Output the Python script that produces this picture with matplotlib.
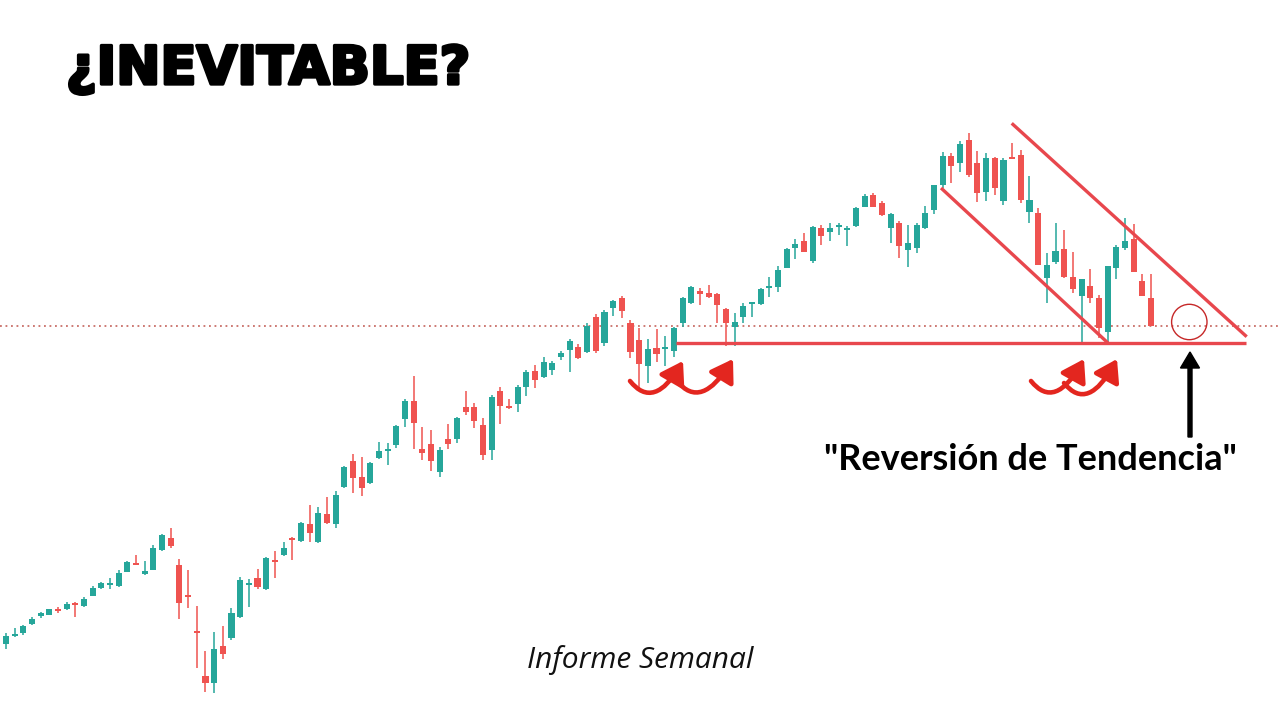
import matplotlib
matplotlib.use("Agg")
import matplotlib.pyplot as plt
from matplotlib.patches import Circle, FancyArrow, FancyArrowPatch
from matplotlib.path import Path
import matplotlib.patheffects as pe
import numpy as np

# ---- weekly candles (arbitrary price units) ----
opens = [74, 76, 84, 87, 96, 104, 105, 111, 111, 117, 114, 124, 132, 136, 134, 148, 157, 146, 150, 170,
         182, 155, 125, 89, 44, 37, 74, 82, 103, 135, 142, 131, 160, 165, 182, 179, 196, 178, 206, 196,
         233, 259, 243, 237, 262, 270, 275, 301, 319, 271, 276, 248, 281, 281, 313, 313, 295, 270, 329, 314,
         316, 333, 349, 343, 350, 363, 370, 373, 368, 403, 377, 412, 422, 397, 380, 354, 372, 371, 369, 397,
         417, 429, 427, 426, 411, 393, 403, 417, 416, 433, 433, 452, 472, 479, 459, 492, 488, 494, 491, 494,
         513, 525, 517, 492, 497, 470, 472, 492, 510, 535, 564, 557, 580, 557, 528, 562, 519, 563, 565, 508,
         507, 442, 458, 471, 443, 424, 434, 422, 388, 452, 472, 481, 439, 422]
highs = [83, 87, 92, 95, 103, 108, 111, 113, 118, 118, 123, 134, 138, 142, 150, 159, 165, 159, 175, 186,
         192, 161, 150, 114, 69, 88, 94, 112, 143, 141, 151, 163, 169, 178, 183, 198, 215, 213, 223, 229,
         254, 266, 263, 258, 278, 277, 295, 321, 344, 293, 290, 273, 296, 303, 329, 317, 302, 325, 333, 321,
         335, 350, 355, 363, 359, 369, 381, 376, 397, 406, 410, 420, 424, 400, 392, 381, 391, 384, 393, 423,
         434, 432, 435, 427, 412, 407, 417, 418, 432, 443, 454, 472, 481, 487, 494, 495, 497, 497, 494, 513,
         526, 527, 519, 507, 499, 495, 497, 514, 535, 568, 567, 579, 587, 569, 567, 563, 562, 577, 570, 544,
         512, 467, 497, 490, 468, 441, 451, 425, 454, 475, 502, 496, 446, 446]
lows = [71, 71, 83, 85, 95, 102, 105, 107, 110, 103, 113, 124, 131, 131, 133, 148, 155, 145, 150, 169,
        172, 101, 112, 52, 28, 27, 61, 80, 102, 113, 131, 130, 142, 164, 160, 178, 178, 177, 196, 192,
        232, 227, 224, 236, 261, 255, 272, 293, 271, 260, 249, 243, 271, 277, 305, 292, 260, 260, 296, 311,
        308, 324, 332, 342, 345, 360, 348, 361, 367, 367, 374, 404, 402, 362, 332, 337, 358, 354, 363, 393,
        416, 415, 422, 397, 374, 374, 397, 403, 415, 423, 428, 452, 461, 468, 457, 475, 479, 485, 474, 493,
        513, 513, 504, 477, 462, 453, 467, 491, 506, 532, 537, 548, 543, 518, 519, 525, 515, 561, 517, 497,
        455, 417, 456, 442, 427, 377, 417, 382, 377, 441, 470, 448, 424, 394]
closes = [80, 84, 86, 94, 101, 107, 111, 109, 116, 115, 121, 132, 137, 137, 147, 158, 156, 149, 172, 185,
          174, 117, 123, 87, 37, 71, 66, 107, 140, 137, 133, 162, 158, 172, 181, 197, 187, 207, 197, 225,
          253, 242, 232, 257, 269, 271, 294, 319, 297, 267, 259, 270, 276, 302, 308, 299, 265, 323, 314, 313,
          333, 348, 340, 358, 357, 367, 379, 362, 394, 369, 408, 419, 409, 368, 356, 371, 366, 373, 392, 422,
          433, 426, 423, 415, 397, 398, 414, 418, 431, 434, 450, 471, 476, 468, 493, 484, 492, 495, 492, 512,
          524, 513, 505, 506, 474, 477, 495, 507, 535, 564, 554, 576, 545, 527, 562, 532, 560, 561, 520, 520,
          455, 455, 469, 443, 431, 441, 422, 392, 454, 473, 479, 448, 424, 394]

# ---- chart annotations (same price units / candle index) ----
dotted_level = 394.3
support_level = 377.3
support_span = [78.3, 144.0]
lower_channel = [(108.8, 532.0), (128.05, 377.0)]
upper_channel = [(116.95, 596.7), (144.04, 383.3)]

title = "¿INEVITABLE?"
callout = "\"Reversión de Tendencia\""
footer = "Informe Semanal"

GREEN = "#26a69a"
RED = "#ef5350"
LINE_RED = "#e8474d"

fig = plt.figure(figsize=(12.8, 7.2), dpi=100)
fig.patch.set_facecolor("white")
ax = fig.add_axes([0, 0, 1, 1])
ax.axis("off")

o = np.array(opens, float)
h = np.array(highs, float)
l = np.array(lows, float)
c = np.array(closes, float)
x = np.arange(len(o))
cols = np.where(c >= o, GREEN, RED)

ax.vlines(x, l, h, colors=cols, lw=1.1, zorder=2)
body = np.abs(c - o)
bh = np.maximum(body, 2.0)
bottom = np.minimum(o, c) - (bh - body) / 2
ax.bar(x, bh, bottom=bottom, width=0.7, color=cols, linewidth=0, zorder=3)

ax.axhline(dotted_level, color="#c0564e", lw=1.1, ls=(0, (1.2, 2.4)), zorder=1)
ax.plot(support_span, [support_level, support_level], color=LINE_RED, lw=2.4,
        solid_capstyle="butt", zorder=4)
for seg in (lower_channel, upper_channel):
    ax.plot([seg[0][0], seg[1][0]], [seg[0][1], seg[1][1]], color=LINE_RED, lw=2.4,
            solid_capstyle="butt", zorder=4)

ax.set_xlim(0.311, 147.88)
ax.set_ylim(0, 720)

# ---- overlay in pixel coordinates for text & arrows ----
ov = fig.add_axes([0, 0, 1, 1])
ov.axis("off")
ov.set_xlim(0, 1280)
ov.set_ylim(720, 0)
ov.patch.set_alpha(0)

ov.text(66, 84, title, fontsize=38, fontweight="bold", family=["DejaVu Sans"],
        ha="left", va="baseline", color="black",
        path_effects=[pe.withStroke(linewidth=2.4, foreground="black")])
ov.text(1030, 470, callout, fontsize=26, fontweight="bold", family=["Lato", "DejaVu Sans"],
        ha="center", va="baseline", color="black")
ov.text(640, 668, footer, fontsize=21.5, style="italic", fontweight="medium",
        family=["Open Sans", "DejaVu Sans"], ha="center", va="baseline", color="#111111")

ov.add_patch(Circle((1189.3, 322), 17.7, fill=False, ec="#c62828", lw=1.0, zorder=5))
ov.add_patch(FancyArrow(1190, 437, 0, -85, width=4, head_width=19, head_length=16,
                        length_includes_head=True, color="black", zorder=6))

for (x0, y0), (x2, y2) in [((630, 381), (683, 361)), ((677, 381), (733, 359)),
                           ((1031, 381), (1084, 359)), ((1064, 383), (1117, 359))]:
    p1 = (x0 + 24, y0 + 30)
    path = Path([(x0, y0), p1, (x2, y2)], [Path.MOVETO, Path.CURVE3, Path.CURVE3])
    ov.add_patch(FancyArrowPatch(path=path, arrowstyle="-|>,head_length=0.65,head_width=0.42",
                                 mutation_scale=20, color="#e3261f", lw=3.3, zorder=6))

fig.savefig("out.png", dpi=100, facecolor="white")
